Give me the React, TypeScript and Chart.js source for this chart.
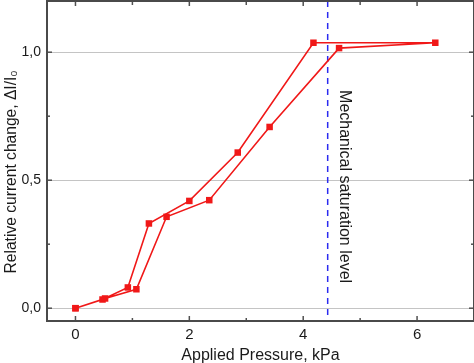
import React, { useEffect, useRef } from "react";
import { Chart, registerables } from "chart.js";

Chart.register(...registerables);

// Loading branch (pressure in kPa, relative current change)
const pressureLoad = [0, 0.475, 0.92, 1.29, 2.0, 2.85, 4.18, 6.32];
const responseLoad = [0, 0.034, 0.081, 0.331, 0.419, 0.608, 1.037, 1.037];
// Unloading branch
const pressureUnload = [4.63, 3.41, 2.35, 1.6, 1.07, 0.52, 0];
const responseUnload = [1.016, 0.708, 0.422, 0.357, 0.074, 0.038, 0];

const saturationPressure = 4.43;
const saturationLabel = "Mechanical saturation level";
const labelAnchor = { x: 4.73, y: 0.852 };

const xMajorTicks = [0, 2, 4, 6];
const xMinorTicks = [1, 3, 5];
const yMajorTicks = [0, 0.5, 1.0];
const yMinorTicks = [0.25, 0.75];

const xTitle = "Applied Pressure, kPa";
const yTitle = "Relative current change, ΔI/I₀     ";

const FONT = "'Liberation Sans', Arial, sans-serif";

const zeroPadding = (s: any) => {
  s.paddingTop = 0;
  s.paddingBottom = 0;
  s.paddingLeft = 0;
  s.paddingRight = 0;
};

const framePlugin = {
  id: "frame",
  beforeDatasetsDraw(chart: any) {
    const { ctx, chartArea, scales } = chart;
    const x = scales.x.getPixelForValue(saturationPressure);
    ctx.save();
    ctx.strokeStyle = "#2b2bf0";
    ctx.lineWidth = 1.5;
    ctx.setLineDash([6, 5]);
    ctx.beginPath();
    ctx.moveTo(x, chartArea.top);
    ctx.lineTo(x, chartArea.bottom);
    ctx.stroke();
    ctx.restore();
  },
  afterDraw(chart: any) {
    const { ctx, chartArea, scales } = chart;
    const { left, right, top, bottom } = chartArea;
    ctx.save();
    ctx.strokeStyle = "#505050";
    ctx.lineWidth = 1.5;
    const tick = (x1: number, y1: number, x2: number, y2: number) => {
      ctx.beginPath();
      ctx.moveTo(x1, y1);
      ctx.lineTo(x2, y2);
      ctx.stroke();
    };
    xMajorTicks.forEach((v) => {
      const p = scales.x.getPixelForValue(v);
      tick(p, bottom, p, bottom - 5);
      tick(p, top, p, top + 5);
    });
    xMinorTicks.forEach((v) => {
      const p = scales.x.getPixelForValue(v);
      tick(p, bottom, p, bottom - 3);
      tick(p, top, p, top + 4);
    });
    yMajorTicks.forEach((v) => {
      const p = scales.y.getPixelForValue(v);
      tick(left, p, left + 5, p);
      tick(right, p, right - 5, p);
    });
    yMinorTicks.forEach((v) => {
      const p = scales.y.getPixelForValue(v);
      tick(left, p, left + 3, p);
      tick(right, p, right - 3, p);
    });
    ctx.strokeStyle = "#4a4a4a";
    ctx.lineWidth = 2;
    ctx.strokeRect(left, top, right - left, bottom - top);

    // annotation text
    const tx = scales.x.getPixelForValue(labelAnchor.x);
    const ty = scales.y.getPixelForValue(labelAnchor.y);
    ctx.translate(tx, ty);
    ctx.rotate(Math.PI / 2);
    ctx.fillStyle = "#1a1a1a";
    ctx.font = `16px ${FONT}`;
    ctx.textAlign = "left";
    ctx.textBaseline = "middle";
    ctx.fillText(saturationLabel, 0, 0);
    ctx.restore();
  },
};

export default function App() {
  const ref = useRef<HTMLCanvasElement>(null);
  useEffect(() => {
    if (!ref.current) return;
    const points = [
      ...pressureLoad.map((x, i) => ({ x, y: responseLoad[i] })),
      ...pressureUnload.map((x, i) => ({ x, y: responseUnload[i] })),
    ];
    const chart = new Chart(ref.current, {
      type: "scatter",
      data: {
        datasets: [
          {
            data: points,
            showLine: true,
            borderColor: "#f01818",
            backgroundColor: "#f01818",
            borderWidth: 1.6,
            pointStyle: "rect",
            pointRadius: 4.6,
            pointBorderWidth: 0,
            tension: 0,
          },
        ],
      },
      options: {
        responsive: false,
        animation: false,
        layout: { autoPadding: false, padding: { top: 1, right: -1, left: 0, bottom: 0 } },
        plugins: { legend: { display: false }, tooltip: { enabled: false } },
        scales: {
          x: {
            type: "linear",
            min: -0.5,
            max: 7,
            afterFit: (s: any) => {
              s.height = 42;
              zeroPadding(s);
            },
            ticks: {
              stepSize: 2,
              includeBounds: false,
              padding: 5,
              color: "#1a1a1a",
              font: { family: FONT, size: 15 },
              callback: (v: any) => String(v),
            },
            grid: { display: false, drawTicks: false },
            border: { display: false },
            title: {
              display: true,
              text: xTitle,
              color: "#1a1a1a",
              font: { family: FONT, size: 16, lineHeight: 1 },
              padding: { top: 0, bottom: -1 },
            },
          },
          y: {
            type: "linear",
            min: -0.05,
            max: 1.2,
            afterFit: (s: any) => {
              s.width = 47;
              zeroPadding(s);
            },
            ticks: {
              stepSize: 0.5,
              includeBounds: false,
              padding: 6,
              color: "#1a1a1a",
              font: { family: FONT, size: 14 },
              callback: (v: any) => Number(v).toFixed(1).replace(".", ","),
            },
            grid: { color: "#c4c4c4", lineWidth: 1, drawTicks: false },
            border: { display: false },
            title: {
              display: true,
              text: yTitle,
              color: "#1a1a1a",
              font: { family: FONT, size: 15.6, lineHeight: 1 },
              padding: { top: 4, bottom: 0 },
            },
          },
        },
      },
      plugins: [framePlugin],
    });
    return () => chart.destroy();
  }, []);
  return (
    <div style={{ position: "fixed", left: 0, top: 0, width: 474, height: 363, background: "#fff" }}>
      <canvas ref={ref} width={474} height={363} style={{ display: "block" }} />
    </div>
  );
}
